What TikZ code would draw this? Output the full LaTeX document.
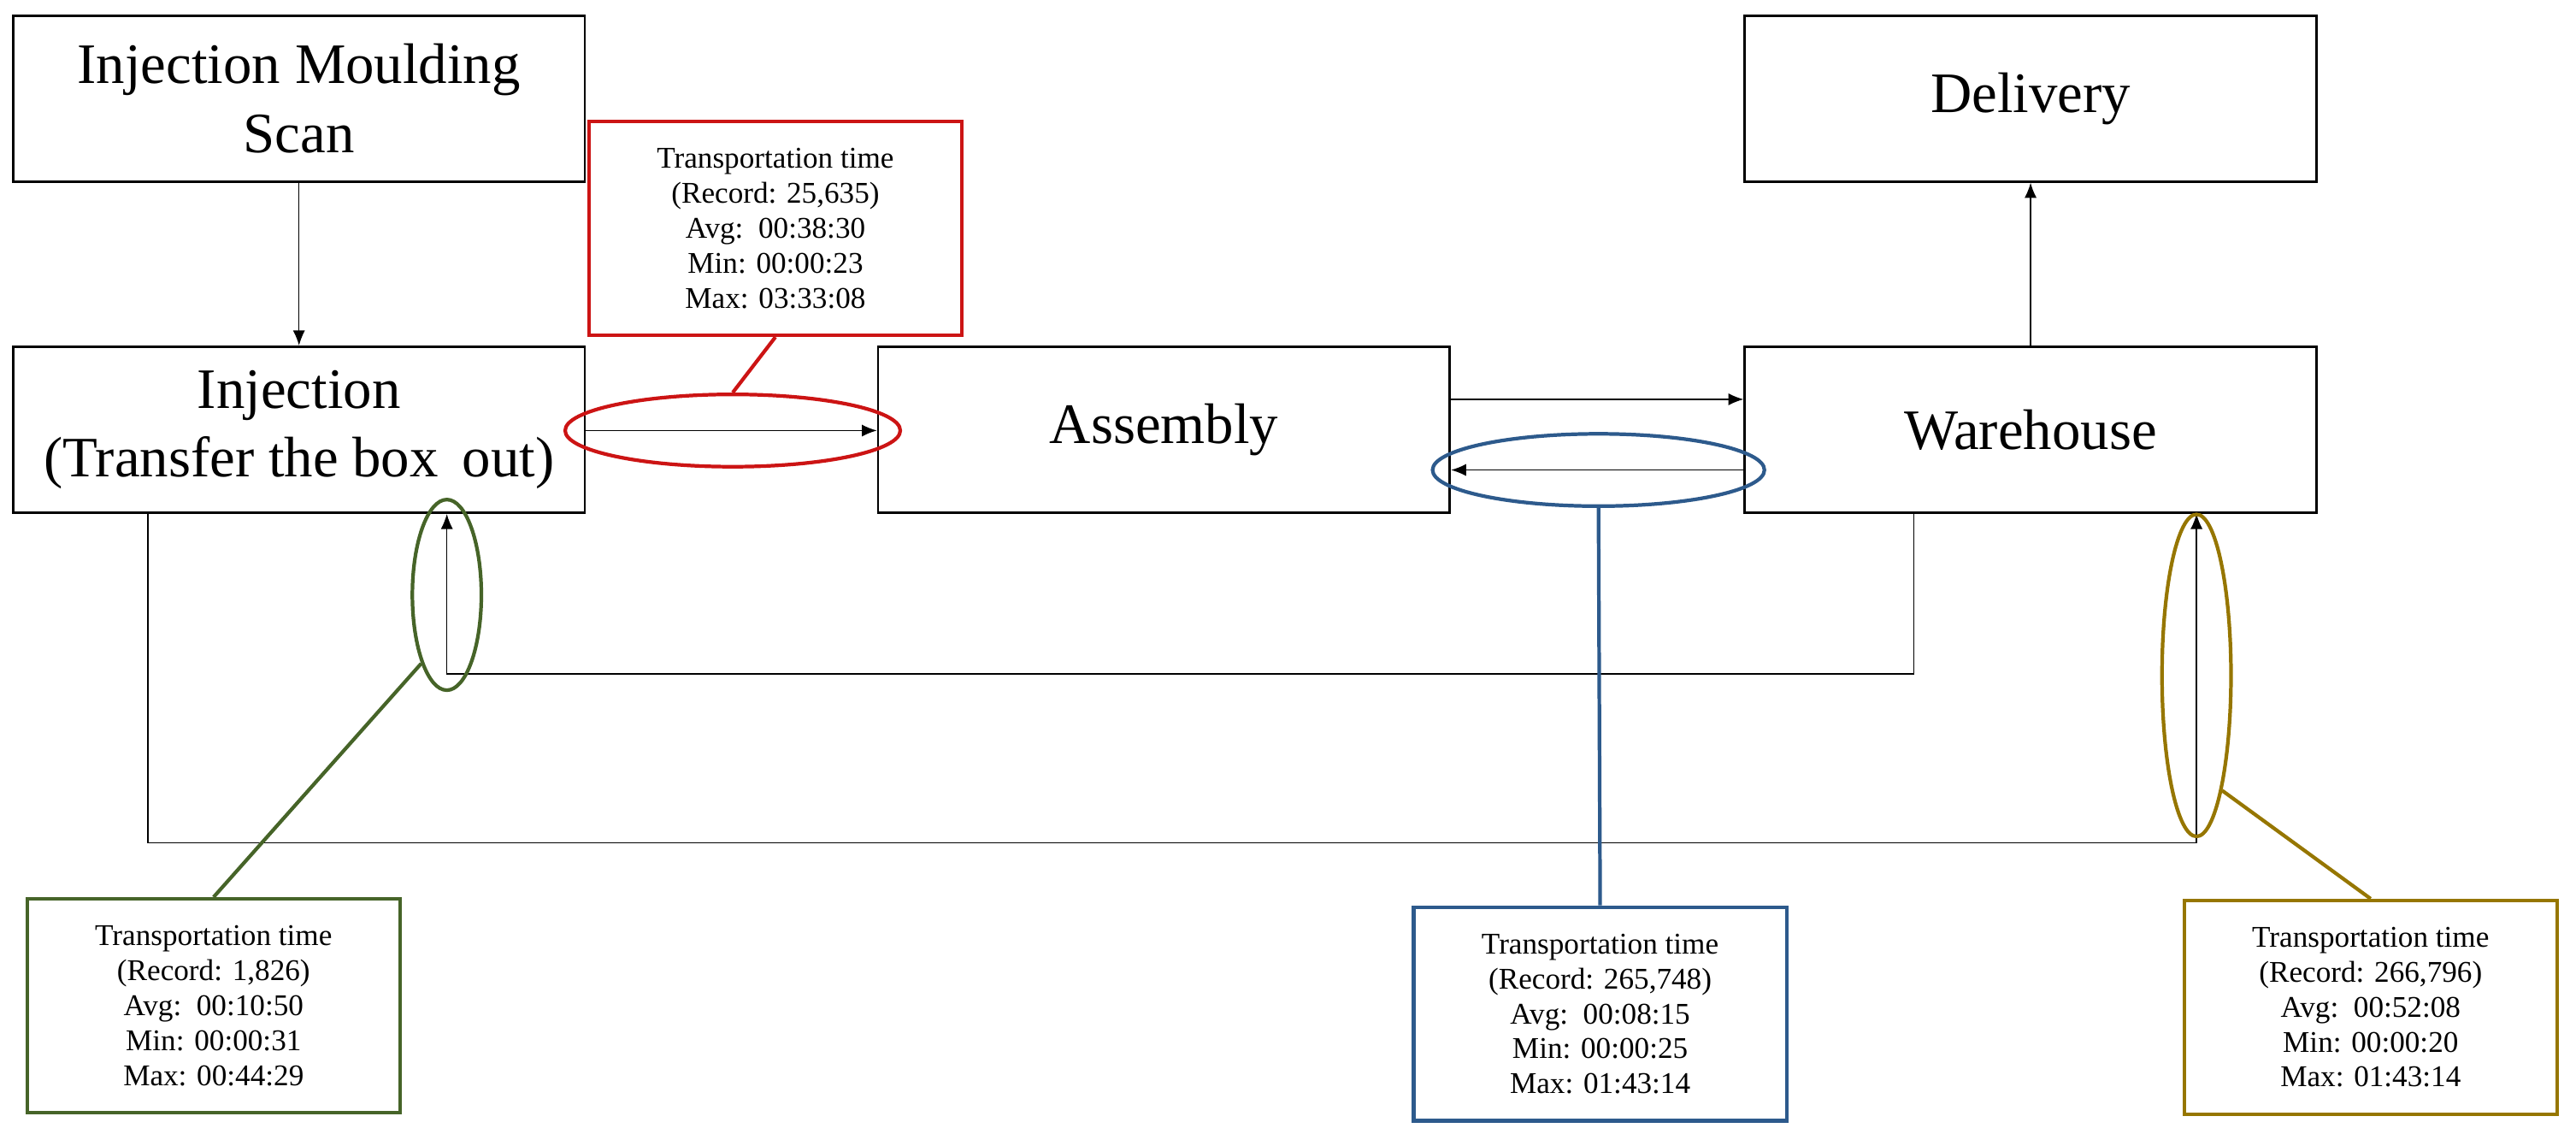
\documentclass[tikz,border=0pt]{standalone}
\usepackage{fontspec}
\setmainfont{Liberation Serif}
\usetikzlibrary{arrows.meta, calc, positioning, shapes.geometric}
\definecolor{redc}{RGB}{204,20,20}
\definecolor{greenc}{RGB}{70,100,40}
\definecolor{bluec}{RGB}{45,90,140}
\definecolor{goldc}{RGB}{150,118,0}
\tikzset{
  stage/.style={draw, thick, minimum width=348*0.0192cm, minimum height=101*0.0192cm, inner sep=0pt, align=center, font=\fontsize{19}{23}\selectfont},
  info/.style={draw, very thick, minimum width=227*0.0192cm, minimum height=130*0.0192cm, inner sep=0pt, align=center, font=\fontsize{10}{11.6}\selectfont},
  flow/.style={-{Latex[length=5pt,width=4pt]}, thin},
  ring/.style={ellipse, draw, very thick, inner sep=0pt}
}
\begin{document}
\begin{tikzpicture}[x=0.0192cm, y=-0.0192cm]
    \useasboundingbox (0,0) rectangle (1568,690);
    %les etapes
    \node [stage] (scan) at (182,60) {Injection Moulding\\Scan};
    \node [stage] (deliv) at (1236,60) {Delivery};
    \node [stage] (inj) at (182,261.5) {Injection\\(Transfer the box\, out)};
    \node [stage] (asm) at (708.5,261.5) {Assembly};
    \node [stage] (ware) at (1236,261.5) {Warehouse};

    %fleches
    \draw [flow] (scan.south) -- (inj.north);
    \draw [flow] (ware.north) -- (deliv.south);
    \draw [flow] (inj.east |- 0,262) -- (asm.west |- 0,262);
    \draw [flow] (asm.east |- 0,243) -- (ware.west |- 0,243);
    \draw [flow] (ware.west |- 0,286) -- (asm.east |- 0,286);
    \draw [flow] (inj.south -| 90,0) |- (1337,513) -- (ware.south -| 1337,0);
    \draw [flow] (ware.south -| 1165,0) |- (272,410) -- (inj.south -| 272,0);

    %ellipses
    \node [ring, redc, minimum width=204*0.0192cm, minimum height=44*0.0192cm] (er) at (446,262) {};
    \node [ring, bluec, minimum width=202*0.0192cm, minimum height=44*0.0192cm] (eb) at (973,286) {};
    \node [ring, greenc, minimum width=42*0.0192cm, minimum height=116*0.0192cm] (eg) at (272,362) {};
    \node [ring, goldc, minimum width=42*0.0192cm, minimum height=196*0.0192cm] (eo) at (1337,411) {};

    %boites de temps
    \node [info, redc] (tr) at (472,139) {\color{black}Transportation time\\\color{black}(Record: 25,635)\\\color{black}Avg:\, 00:38:30\\\color{black}Min: 00:00:23\\\color{black}Max: 03:33:08};
    \node [info, greenc] (tg) at (130,612) {\color{black}Transportation time\\\color{black}(Record: 1,826)\\\color{black}Avg:\, 00:10:50\\\color{black}Min: 00:00:31\\\color{black}Max: 00:44:29};
    \node [info, bluec] (tb) at (974,617) {\color{black}Transportation time\\\color{black}(Record: 265,748)\\\color{black}Avg:\, 00:08:15\\\color{black}Min: 00:00:25\\\color{black}Max: 01:43:14};
    \node [info, goldc] (to) at (1443,613) {\color{black}Transportation time\\\color{black}(Record: 266,796)\\\color{black}Avg:\, 00:52:08\\\color{black}Min: 00:00:20\\\color{black}Max: 01:43:14};

    %liens
    \draw [very thick, redc] (er.north) -- (tr.south);
    \draw [very thick, bluec] (eb.south) -- (tb.north);
    \draw [very thick, greenc] (eg.south west) -- (tg.north);
    \draw [very thick, goldc] (eo.south east) -- (to.north);
\end{tikzpicture}
\end{document}
